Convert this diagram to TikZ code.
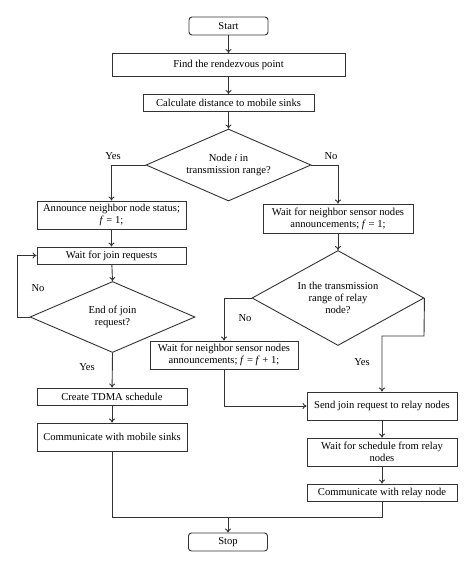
\documentclass[tikz,border=0pt]{standalone}
\usepackage{fontspec}
\setmainfont{Liberation Serif}
\usetikzlibrary{shapes.geometric,arrows.meta}
\tikzset{
  x=1pt, y=-1pt,
  line/.style={draw=black!80, line width=0.9pt},
  arr/.style={line, -{To[length=4pt,width=6pt]}},
  proc/.style={draw=black!80, line width=0.9pt, rectangle, minimum width=150pt, inner sep=1pt, align=center, font=\fontsize{10.6}{12.2}\selectfont},
  term/.style={proc, rounded corners=3pt, minimum width=79pt, minimum height=18pt},
  dec/.style={draw=black!80, line width=0.9pt, diamond, inner sep=0pt, align=center, font=\fontsize{10.6}{12.2}\selectfont},
  lab/.style={font=\fontsize{10.6}{12.2}\selectfont, inner sep=0pt}
}
\begin{document}
\begin{tikzpicture}
\useasboundingbox (0,0) rectangle (474,568);
\node[term] (start) at (228.5,26) {Start};
\node[proc, minimum width=233pt, minimum height=23pt] (find) at (228.5,65) {Find the rendezvous point};
\node[proc, minimum width=171pt, minimum height=17pt] (calc) at (228.5,103) {Calculate distance to mobile sinks};
\node[dec, minimum width=165pt, minimum height=72pt, aspect=2.3] (d1) at (228.5,165) {Node \textit{i} in\\transmission range?};
\node[proc, minimum width=149pt, minimum height=28pt] (ann) at (111.5,215) {Announce neighbor node status;\\\textit{f} = 1;};
\node[proc, minimum width=150pt, minimum height=29pt] (wf1) at (338,218.5) {Wait for neighbor sensor nodes\\announcements; \textit{f} = 1;};
\node[proc, minimum width=149pt, minimum height=17pt] (wj) at (111.5,255.5) {Wait for join requests};
\node[dec, minimum width=165pt, minimum height=71pt, aspect=2.3] (d2) at (112.5,317) {End of join\\request?};
\node[dec, minimum width=172pt, minimum height=95pt, aspect=1.8] (d3) at (338,298) {In the transmission\\range of relay\\node?};
\node[proc, minimum width=148pt, minimum height=28pt] (wf2) at (224,355) {Wait for neighbor sensor nodes\\announcements; \textit{f} = \textit{f} + 1;};
\node[proc, minimum width=150pt, minimum height=17pt] (tdma) at (112,396.5) {Create TDMA schedule};
\node[proc, minimum width=150pt, minimum height=28pt] (cm) at (112,437) {Communicate with mobile sinks};
\node[proc, minimum width=150pt, minimum height=28pt] (send) at (382,406) {Send join request to relay nodes};
\node[proc, minimum width=150pt, minimum height=28pt] (ws) at (382,452) {Wait for schedule from relay\\nodes};
\node[proc, minimum width=150pt, minimum height=17pt] (cr) at (382,492.5) {Communicate with relay node};
\node[term] (stop) at (228,542) {Stop};
\coordinate (yb) at (424,336);
\coordinate (loop) at (17,317);
\coordinate (merge) at (228,517);
\node[lab] (l1) at (113,156) {Yes};
\node[lab] (l2) at (331,156) {No};
\node[lab] (l3) at (38,288) {No};
\node[lab] (l4) at (87,367) {Yes};
\node[lab] (l5) at (245,318) {No};
\node[lab] (l6) at (362,362) {Yes};
\draw[arr] (start) -- (find);
\draw[arr] (find) -- (calc);
\draw[arr] (calc) -- (d1);
\draw[arr] (d1.west) -| (ann.north);
\draw[arr] (d1.east) -| (wf1.north);
\draw[arr] (ann) -- (wj);
\draw[arr] (wj) -- (d2.north);
\draw[arr] (d2.west) -- (loop) |- (wj.west);
\draw[arr] (d2.south) -- (tdma);
\draw[arr] (tdma) -- (cm);
\draw[arr] (wf1) -- (d3.north);
\draw[arr] (d3.west) -| (wf2.north);
\draw[arr] (d3.east) -- (yb) -| (send.north);
\draw[arr] (wf2.south) |- (send.west);
\draw[arr] (send) -- (ws);
\draw[arr] (ws) -- (cr);
\draw[line] (cm.south) |- (merge);
\draw[line] (cr.south) |- (merge);
\draw[arr] (merge) -- (stop.north);
\end{tikzpicture}
\end{document}
